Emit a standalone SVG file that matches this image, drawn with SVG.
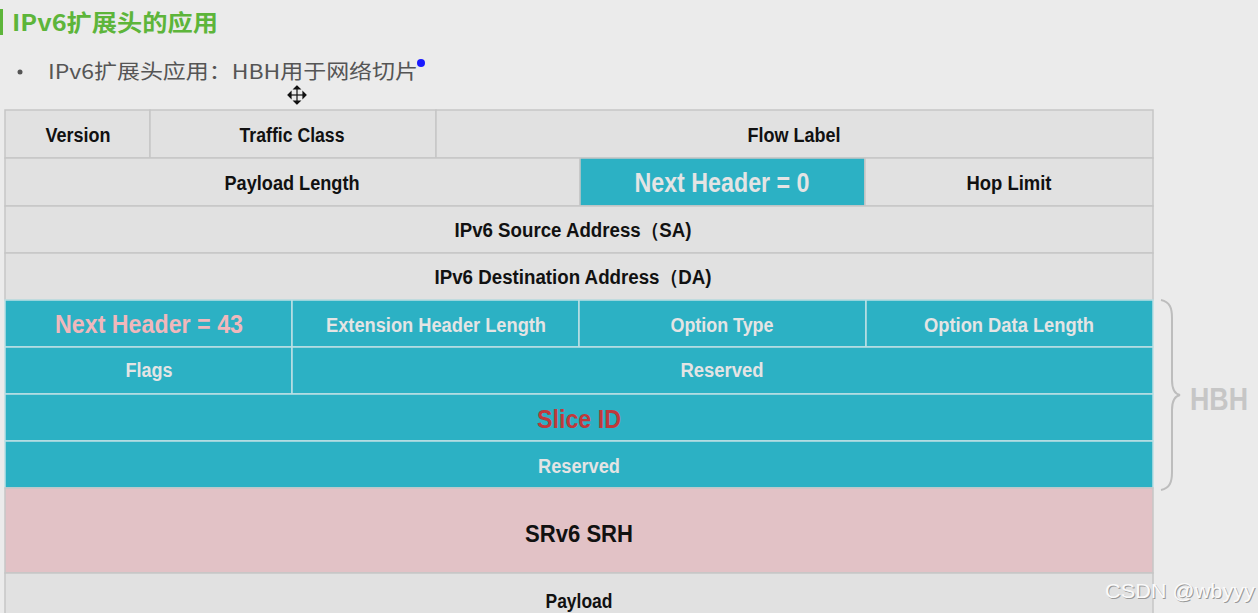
<svg xmlns="http://www.w3.org/2000/svg" width="1258" height="613" viewBox="0 0 1258 613">
<style>
.bg{fill:#ebebeb}
.g{fill:#e1e1e1;stroke:#c6c6c6;stroke-width:1.5}
.t{fill:#2cb1c4;stroke:#bcdfe4;stroke-width:1.5}
.p{fill:#e2c2c6;stroke:#c6c6c6;stroke-width:1.5}
text{font-family:"Liberation Sans Narrow","Liberation Sans",Arial,sans-serif;font-weight:bold;text-anchor:middle}
.k{fill:#111;font-size:20px}
.w{fill:#e4e4e4;font-size:20px}
</style>
<rect class="bg" x="0" y="0" width="1258" height="613"/>
<g id="title">
<rect x="0" y="9" width="3" height="26" fill="#5db53a"/>
<text x="12" y="31" style="font-family:'Noto Sans CJK SC',sans-serif;font-weight:bold;font-size:23px;fill:#5db53a;text-anchor:start" textLength="206" lengthAdjust="spacingAndGlyphs">IPv6扩展头的应用</text>
</g>
<g id="bullet">
<circle cx="20" cy="72" r="2.5" fill="#555"/>
<text x="48" y="79" style="font-family:'Noto Sans CJK SC',sans-serif;font-weight:normal;font-size:20px;fill:#555;text-anchor:start" textLength="370" lengthAdjust="spacingAndGlyphs">IPv6扩展头应用：HBH用于网络切片</text>
<circle cx="421" cy="63" r="4" fill="#1a1aff"/>
</g>
<g id="cursor" stroke="#111" stroke-width="1.2" fill="#111">
<line x1="290" y1="95" x2="304" y2="95"/><line x1="297" y1="88" x2="297" y2="102"/>
<path d="M288,95 l3,-3 v6z M306,95 l-3,-3 v6z M297,86 l-3,3 h6z M297,104 l-3,-3 h6z"/>
</g>
<g id="row1">
<rect class="g" x="5" y="110" width="145" height="48"/>
<text class="k" x="78" y="142" textLength="65" lengthAdjust="spacingAndGlyphs">Version</text>
<rect class="g" x="150" y="110" width="286" height="48"/>
<text class="k" x="292" y="142" textLength="105" lengthAdjust="spacingAndGlyphs">Traffic Class</text>
<rect class="g" x="436" y="110" width="717" height="48"/>
<text class="k" x="794" y="142" textLength="93" lengthAdjust="spacingAndGlyphs">Flow Label</text>
</g>
<g id="row2">
<rect class="g" x="5" y="158" width="575" height="48"/>
<text class="k" x="292" y="190" textLength="135" lengthAdjust="spacingAndGlyphs">Payload Length</text>
<rect class="t" x="580" y="158" width="285" height="48" style="stroke:#c6c6c6"/>
<text class="w" x="722" y="192" style="font-size:27px" textLength="175" lengthAdjust="spacingAndGlyphs">Next Header = 0</text>
<rect class="g" x="865" y="158" width="288" height="48"/>
<text class="k" x="1009" y="190" textLength="85" lengthAdjust="spacingAndGlyphs">Hop Limit</text>
</g>
<g id="row3">
<rect class="g" x="5" y="206" width="1148" height="47"/>
<text class="k" x="573" y="237" textLength="237" lengthAdjust="spacingAndGlyphs">IPv6 Source Address（SA)</text>
</g>
<g id="row4">
<rect class="g" x="5" y="253" width="1148" height="47"/>
<text class="k" x="573" y="284" textLength="277" lengthAdjust="spacingAndGlyphs">IPv6 Destination Address（DA)</text>
</g>
<g id="row5">
<rect class="t" x="5" y="300" width="287" height="47"/>
<text class="w" x="149" y="333" style="font-size:26px;fill:#f0b8bc" textLength="188" lengthAdjust="spacingAndGlyphs">Next Header = 43</text>
<rect class="t" x="292" y="300" width="287" height="47"/>
<text class="w" x="436" y="332" textLength="220" lengthAdjust="spacingAndGlyphs">Extension Header Length</text>
<rect class="t" x="579" y="300" width="287" height="47"/>
<text class="w" x="722" y="332" textLength="103" lengthAdjust="spacingAndGlyphs">Option Type</text>
<rect class="t" x="866" y="300" width="287" height="47"/>
<text class="w" x="1009" y="332" textLength="170" lengthAdjust="spacingAndGlyphs">Option Data Length</text>
</g>
<g id="row6">
<rect class="t" x="5" y="347" width="287" height="47"/>
<text class="w" x="149" y="377" textLength="47" lengthAdjust="spacingAndGlyphs">Flags</text>
<rect class="t" x="292" y="347" width="861" height="47"/>
<text class="w" x="722" y="377" textLength="83" lengthAdjust="spacingAndGlyphs">Reserved</text>
</g>
<g id="row7">
<rect class="t" x="5" y="394" width="1148" height="47"/>
<text class="w" x="579" y="428" style="font-size:25px;fill:#c0393b" textLength="84" lengthAdjust="spacingAndGlyphs">Slice ID</text>
</g>
<g id="row8">
<rect class="t" x="5" y="441" width="1148" height="47"/>
<text class="w" x="579" y="473" textLength="82" lengthAdjust="spacingAndGlyphs">Reserved</text>
</g>
<g id="row9">
<rect class="p" x="5" y="488" width="1148" height="85"/>
<text class="k" x="579" y="542" style="font-size:24px" textLength="108" lengthAdjust="spacingAndGlyphs">SRv6 SRH</text>
</g>
<g id="row10">
<rect class="g" x="5" y="573" width="1148" height="45"/>
<text class="k" x="579" y="608" textLength="67" lengthAdjust="spacingAndGlyphs">Payload</text>
</g>
<g id="hbh">
<path d="M1161,300 C1170,302 1172,308 1172,318 V380 C1172,390 1175,394 1180,395 C1175,396 1172,400 1172,410 V472 C1172,482 1170,488 1161,490" fill="none" stroke="#bdbdbd" stroke-width="2"/>
<text x="1219" y="410" style="font-size:32px;fill:#c6c6c6" textLength="58" lengthAdjust="spacingAndGlyphs">HBH</text>
</g>
<g id="watermark">
<text x="1181" y="599" style="font-weight:normal;font-size:20px;fill:#999" textLength="150" lengthAdjust="spacingAndGlyphs">CSDN @wbyyy</text>
<text x="1180" y="598" style="font-weight:normal;font-size:20px;fill:#fafafa" textLength="150" lengthAdjust="spacingAndGlyphs">CSDN @wbyyy</text>
</g>
</svg>
